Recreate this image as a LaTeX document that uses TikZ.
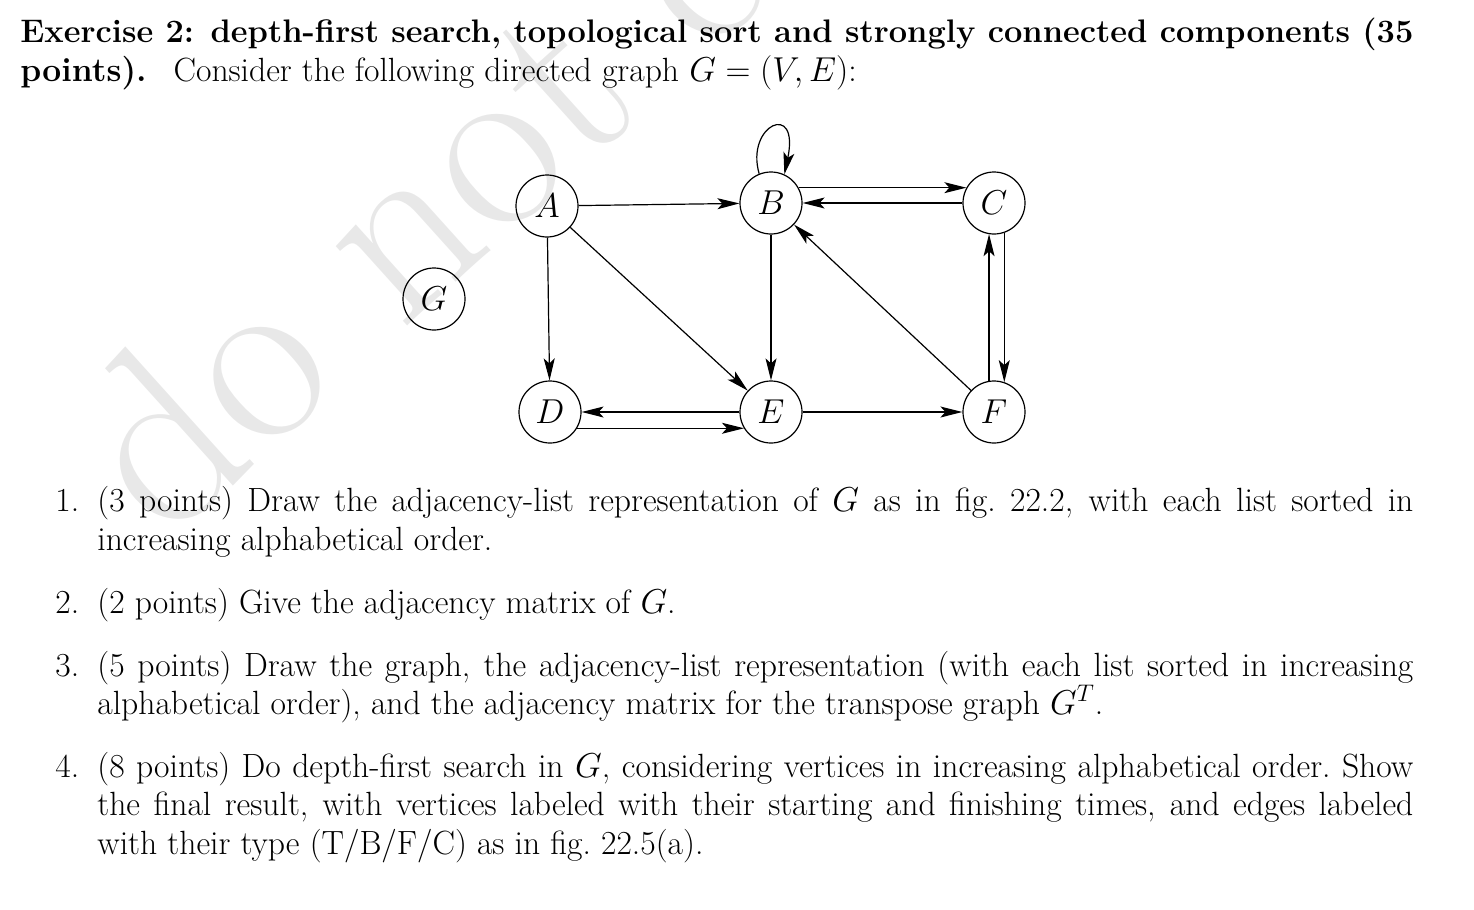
\documentclass[tikz,border=0pt]{standalone}
\usetikzlibrary{arrows.meta}
\begin{document}
\begin{tikzpicture}[x=0.5pt,y=-0.5pt,
  vtx/.style={circle,draw,line width=0.6pt,minimum size=31pt,inner sep=0pt},
  edge/.style={line width=0.6pt,-{Stealth[length=11pt,width=5.5pt,inset=2.5pt]}},
  txt/.style={anchor=base west,inner sep=0pt,font=\fontsize{16.8}{19}\selectfont}]
\useasboundingbox (0,0) rectangle (1474,910);
\begin{scope}
\clip (0,0) rectangle (1474,910);
\node[anchor=base west,inner sep=0pt,rotate=42,text=black!9,font=\fontsize{125}{125}\selectfont] (wm) at (165,545) {do not copy};
\end{scope}
% text
\node[txt,font=\fontsize{16.3}{19}\selectfont] (l1) at (20,42) {\makebox[696.5pt][s]{\bfseries Exercise 2: depth-first search, topological sort and strongly connected components (35}};
\node[txt] (l2) at (20,81) {\textbf{points).}\enspace\ Consider the following directed graph $G=(V,E)$:};
\node[txt] (n1) at (55,511) {1.};
\node[txt] (i1a) at (97,511) {\makebox[658pt][s]{(3 points) Draw the adjacency-list representation of $G$ as in fig.\ 22.2, with each list sorted in}};
\node[txt] (i1b) at (97,550) {increasing alphabetical order.};
\node[txt] (n2) at (55,613) {2.};
\node[txt] (i2a) at (97,613) {(2 points) Give the adjacency matrix of $G$.};
\node[txt] (n3) at (55,676) {3.};
\node[txt] (i3a) at (97,676) {\makebox[658pt][s]{(5 points) Draw the graph, the adjacency-list representation (with each list sorted in increasing}};
\node[txt] (i3b) at (97,714) {alphabetical order), and the adjacency matrix for the transpose graph $G^T$.};
\node[txt] (n4) at (55,777) {4.};
\node[txt] (i4a) at (97,777) {\makebox[658pt][s]{(8 points) Do depth-first search in $G$, considering vertices in increasing alphabetical order.\ Show}};
\node[txt] (i4b) at (97,815) {\makebox[658pt][s]{the final result, with vertices labeled with their starting and finishing times, and edges labeled}};
\node[txt] (i4c) at (97,854) {with their type (T/B/F/C) as in fig.\ 22.5(a).};
% graph
\begin{scope}[font=\fontsize{16.8}{19}\selectfont]
\node[vtx] (A) at (547,206) {$A$};
\node[vtx] (B) at (771,203) {$B$};
\node[vtx] (C) at (994,203) {$C$};
\node[vtx] (D) at (550,412) {$D$};
\node[vtx] (E) at (771,412) {$E$};
\node[vtx] (F) at (994,412) {$F$};
\node[vtx] (G) at (434,299) {$G$};
\end{scope}
\draw[edge] (A) -- (B);
\draw[edge] (A) -- (D);
\draw[edge] (A) -- (E);
\draw[edge] (B) -- (E);
\draw[edge] (F) -- (B);
\draw[edge] (E) -- (F);
\draw[edge] (B.29) -- (C.151);
\draw[edge] (C.180) -- (B.0);
\draw[edge] (E.180) -- (D.0);
\draw[edge] (D.-31) -- (E.211);
\draw[edge] (F.99) -- (C.261);
\draw[edge] (C.-71) -- (F.71);
\draw[edge] (B.112) .. controls (745,125) and (800,100) .. (B.65);
\end{tikzpicture}
\end{document}
